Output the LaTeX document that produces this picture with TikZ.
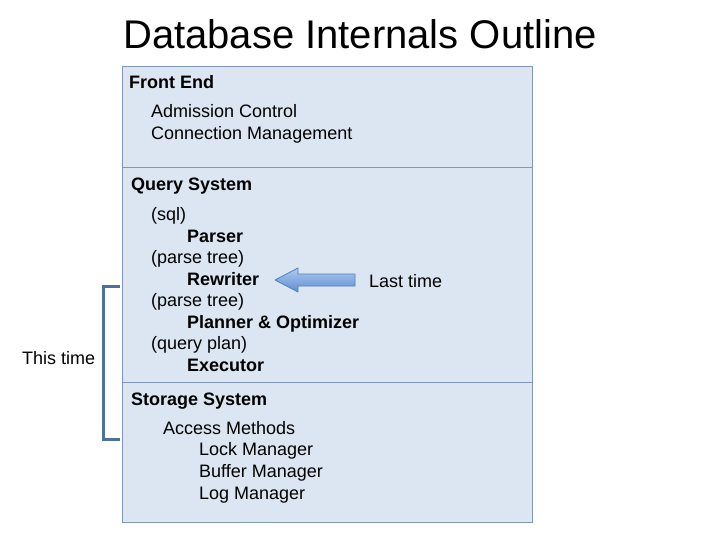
\documentclass[tikz,border=0pt]{standalone}
\usepackage{fontspec}
\setmainfont{Liberation Sans}
\definecolor{boxfill}{HTML}{DCE6F2}
\definecolor{boxline}{HTML}{8097B8}
\definecolor{brack}{HTML}{4F6F9F}
\definecolor{arrline}{HTML}{4F81BD}
\definecolor{arrtop}{HTML}{B0CAEE}
\definecolor{arrbot}{HTML}{5E8DD2}
\begin{document}
\begin{tikzpicture}[x=1pt,y=-1pt,
  txt/.style={anchor=base west,inner sep=0pt,font=\fontsize{18}{18}\selectfont},
  btxt/.style={txt,font=\fontsize{18}{18}\selectfont\bfseries},
  panel/.style={draw=boxline,fill=boxfill,line width=1pt}]
\useasboundingbox (0,0) rectangle (720,540);
\node[inner sep=0pt,anchor=base,font=\fontsize{40}{40}\selectfont] (title) at (360,49) {Database Internals Outline};
% panels
\draw[panel] (122,67) rectangle (532,168);
\draw[panel] (122,168) rectangle (532,382);
\draw[panel] (122,382) rectangle (532,522);
% front end
\node[btxt] (fe) at (129,88.5) {Front End};
\node[txt] (ac) at (151,117.5) {Admission Control};
\node[txt] (cm) at (151,139.5) {Connection Management};
% query system
\node[btxt] (qs) at (131,190.5) {Query System};
\node[txt] (sql) at (151,220.5) {(sql)};
\node[btxt] (parser) at (187,242.5) {Parser};
\node[txt] (pt1) at (151,263.5) {(parse tree)};
\node[btxt] (rewriter) at (187,285.5) {Rewriter};
\node[txt] (pt2) at (151,306.5) {(parse tree)};
\node[btxt] (planner) at (187,328.5) {Planner \& Optimizer};
\node[txt] (qp) at (151,349.5) {(query plan)};
\node[btxt] (exec) at (187,371.5) {Executor};
% storage
\node[btxt] (ss) at (131,405.5) {Storage System};
\node[txt] (am) at (163,434.5) {Access Methods};
\node[txt] (lm) at (199,455.5) {Lock Manager};
\node[txt] (bm) at (199,477.5) {Buffer Manager};
\node[txt] (logm) at (199,499.5) {Log Manager};
% labels
\node[txt] (last) at (369,287.5) {Last time};
\node[txt] (this) at (22,364.5) {This time};
% block arrow
\draw[draw=arrline,line width=0.8pt,top color=arrtop,bottom color=arrbot,line join=round]
  (275,280) -- (298,268) -- (298,274) -- (355,274) -- (355,286) -- (298,286) -- (298,292) -- cycle;
% bracket
\coordinate (bt) at (120,286);
\coordinate (bb) at (120,439);
\draw[brack,line width=3pt] (bt) -- (103,286) -- (103,439) -- (bb);
\end{tikzpicture}
\end{document}
